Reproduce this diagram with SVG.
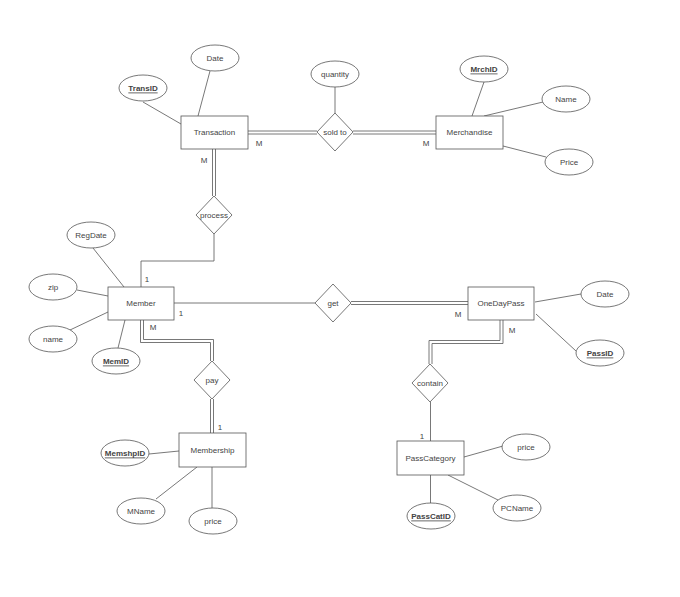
<svg xmlns="http://www.w3.org/2000/svg" width="680" height="597" viewBox="0 0 680 597">
<style>
.s{fill:#fff;stroke:#555;stroke-width:0.8}
.c{fill:none;stroke:#555;stroke-width:0.8}
text{font-family:"Liberation Sans",Arial,sans-serif;font-size:8px;fill:#444;text-anchor:middle;dominant-baseline:central}
.u{text-decoration:underline;font-weight:bold}
</style>
<rect width="680" height="597" fill="#fff"/>
<g id="connectors" class="c">
<line x1="143" y1="102" x2="181" y2="124"/>
<line x1="210" y1="71" x2="198" y2="116"/>
<line x1="335" y1="87" x2="335" y2="113"/>
<line x1="484" y1="82" x2="472" y2="116"/>
<line x1="543" y1="102" x2="484" y2="116"/>
<line x1="546" y1="157" x2="503" y2="146"/>
<path d="M248 131H317M248 134H317M353 131H436M353 134H436"/>
<path d="M212.5 149V196M215.5 149V196"/>
<path d="M214 234V261H141V287"/>
<line x1="93" y1="248" x2="124" y2="287"/>
<line x1="77" y1="290" x2="108" y2="296"/>
<line x1="70" y1="330" x2="108" y2="312"/>
<line x1="118" y1="348" x2="125" y2="320"/>
<path d="M174 303H315"/>
<path d="M351 301.5H468M351 304.5H468"/>
<line x1="535" y1="302" x2="581" y2="294"/>
<line x1="536" y1="314" x2="576" y2="351"/>
<path d="M140.5 320V342.5H210.5V361M143.5 320V339.5H213.5V361"/>
<path d="M210.5 399V433M213.5 399V433"/>
<line x1="149" y1="454" x2="179" y2="451"/>
<line x1="156" y1="499" x2="197" y2="467"/>
<line x1="212" y1="467" x2="212" y2="508"/>
<path d="M500 320V340.5H429V364M503 320V343.5H432V364"/>
<line x1="430.5" y1="402" x2="430.5" y2="441"/>
<line x1="464" y1="457" x2="503" y2="446"/>
<line x1="430.5" y1="475" x2="430.5" y2="503"/>
<line x1="448" y1="475" x2="498" y2="500"/>
</g>
<g id="Transaction"><rect class="s" x="181" y="116" width="67" height="33"/><text x="214.5" y="132.5">Transaction</text></g>
<g id="Merchandise"><rect class="s" x="436" y="116" width="67" height="33"/><text x="469.5" y="132.5">Merchandise</text></g>
<g id="Member"><rect class="s" x="108" y="287" width="66" height="33"/><text x="141" y="303.5">Member</text></g>
<g id="OneDayPass"><rect class="s" x="468" y="287" width="66" height="33"/><text x="501" y="303.5">OneDayPass</text></g>
<g id="Membership"><rect class="s" x="179" y="433" width="67" height="34"/><text x="212.5" y="450">Membership</text></g>
<g id="PassCategory"><rect class="s" x="397" y="441" width="67" height="34"/><text x="430.5" y="458">PassCategory</text></g>
<g id="soldto"><polygon class="s" points="335,113 353,132 335,151 317,132"/><text x="335" y="132">sold to</text></g>
<g id="process"><polygon class="s" points="214,196 232,215 214,234 196,215"/><text x="214" y="215">process</text></g>
<g id="get"><polygon class="s" points="333,284 351,303 333,322 315,303"/><text x="333" y="303">get</text></g>
<g id="pay"><polygon class="s" points="212,361 230,380 212,399 194,380"/><text x="212" y="380">pay</text></g>
<g id="contain"><polygon class="s" points="430,364 448,383 430,402 412,383"/><text x="430" y="383">contain</text></g>
<g id="a-Date1"><ellipse class="s" cx="215" cy="58" rx="24" ry="13"/><text x="215" y="58">Date</text></g>
<g id="a-TransID"><ellipse class="s" cx="143" cy="88" rx="24" ry="13"/><text class="u" x="143" y="88">TransID</text></g>
<g id="a-quantity"><ellipse class="s" cx="335" cy="74" rx="24" ry="13"/><text x="335" y="74">quantity</text></g>
<g id="a-MrchID"><ellipse class="s" cx="484" cy="69" rx="24" ry="13"/><text class="u" x="484" y="69">MrchID</text></g>
<g id="a-Name"><ellipse class="s" cx="566" cy="99" rx="24" ry="13"/><text x="566" y="99">Name</text></g>
<g id="a-Price"><ellipse class="s" cx="569" cy="162" rx="24" ry="13"/><text x="569" y="162">Price</text></g>
<g id="a-RegDate"><ellipse class="s" cx="91" cy="235" rx="24" ry="13"/><text x="91" y="235">RegDate</text></g>
<g id="a-zip"><ellipse class="s" cx="53" cy="287" rx="24" ry="13"/><text x="53" y="287">zip</text></g>
<g id="a-name"><ellipse class="s" cx="53" cy="339" rx="24" ry="13"/><text x="53" y="339">name</text></g>
<g id="a-MemID"><ellipse class="s" cx="116" cy="361" rx="24" ry="13"/><text class="u" x="116" y="361">MemID</text></g>
<g id="a-Date2"><ellipse class="s" cx="605" cy="294" rx="24" ry="13"/><text x="605" y="294">Date</text></g>
<g id="a-PassID"><ellipse class="s" cx="600" cy="353" rx="24" ry="13"/><text class="u" x="600" y="353">PassID</text></g>
<g id="a-MemshpID"><ellipse class="s" cx="125" cy="453" rx="24" ry="13"/><text class="u" x="125" y="453">MemshpID</text></g>
<g id="a-MName"><ellipse class="s" cx="141" cy="511" rx="24" ry="13"/><text x="141" y="511">MName</text></g>
<g id="a-price1"><ellipse class="s" cx="213" cy="521" rx="24" ry="13"/><text x="213" y="521">price</text></g>
<g id="a-price2"><ellipse class="s" cx="526" cy="447" rx="24" ry="13"/><text x="526" y="447">price</text></g>
<g id="a-PassCatID"><ellipse class="s" cx="431" cy="516" rx="24" ry="13"/><text class="u" x="431" y="516">PassCatID</text></g>
<g id="a-PCName"><ellipse class="s" cx="517" cy="508" rx="24" ry="13"/><text x="517" y="508">PCName</text></g>
<g id="labels">
<text x="259" y="143">M</text><text x="426" y="143">M</text><text x="204" y="160">M</text>
<text x="147" y="279">1</text><text x="181" y="313">1</text><text x="153" y="327">M</text>
<text x="220" y="427">1</text><text x="458" y="314">M</text><text x="512" y="330">M</text><text x="422" y="436">1</text>
</g>
</svg>
